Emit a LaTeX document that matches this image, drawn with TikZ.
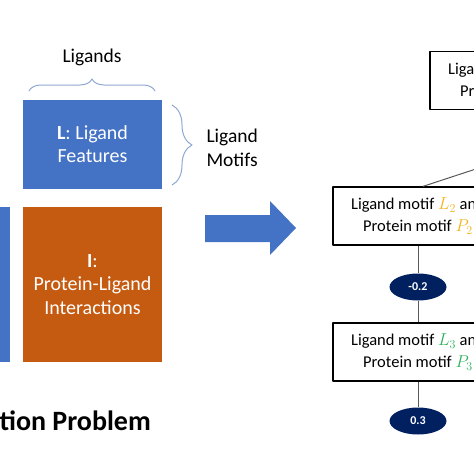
\documentclass[tikz,border=0pt]{standalone}
\usepackage{fontspec}
\setmainfont{Carlito}
\usepackage{tikz}
\usetikzlibrary{positioning,calc,shapes.geometric,decorations.pathreplacing}
\definecolor{featblue}{HTML}{4472C4}
\definecolor{featorange}{HTML}{C55A11}
\definecolor{bracecol}{HTML}{8FA8D4}
\definecolor{navy}{HTML}{002060}
\definecolor{gold}{HTML}{F4B41A}
\definecolor{leaf}{HTML}{2DB35A}
\definecolor{edgegray}{HTML}{595959}
\tikzset{
    every picture/.style={line join=round},
    featbox/.style={fill=#1,draw=none,text=white,align=center,
      minimum width=139pt,inner sep=0pt,
      font=\fontsize{20}{23.5}\selectfont},
    motifbox/.style={draw=black,fill=white,line width=1.3pt,
      minimum width=170pt,minimum height=58pt,inner sep=2pt,align=center,
      font=\fontsize{16.5}{22}\selectfont},
    scorenode/.style={ellipse,fill=navy,text=white,inner sep=0pt,
      minimum width=57pt,minimum height=27pt,
      font=\fontsize{12}{14}\selectfont\bfseries},
    treeline/.style={draw=edgegray,line width=1pt},
    bracemark/.style={draw=bracecol,line width=1pt,
      decorate,decoration={brace,amplitude=#1}},
    sidelabel/.style={font=\fontsize{19.5}{24}\selectfont,align=left}
}

\begin{document}
\begin{tikzpicture}[x=1pt,y=-1pt]
  \useasboundingbox (0,0) rectangle (474,474);
  \clip (0,0) rectangle (474,474);
  % feature matrices
  \node[featbox=featblue,minimum width=30pt,minimum height=155pt] (pmat)
    at (-5,284.5) {};
  \node[featbox=featblue,minimum height=89pt] (lmat) at (92.5,144)
    {\textbf{L}: Ligand\\Features};
  \node[featbox=featorange,minimum height=155pt] (imat) at (92.5,284.5)
    {\textbf{I}:\\Protein-Ligand\\Interactions};
  \node[sidelabel] (lig) at (92,57) {Ligands};
  \node[sidelabel,anchor=west] (motifs) at (203,148) {Ligand\\Motifs};
  \draw[bracemark=12pt] (29,91) -- (155,91);
  \draw[bracemark=20pt] (172,105) -- (172,185);
  \node[font=\fontsize{28}{32}\selectfont\bfseries,anchor=base east,
    inner sep=0pt] (title) at (151,430) {tion Problem};
  % big arrow
  \fill[featblue] (205,215) -- (270,215) -- (270,201) -- (296,228)
    -- (270,255) -- (270,242) -- (205,242) -- cycle;
  % tree of motif pairs
  \node[motifbox] (m1) at (515,80.5)
    {Ligand motif $L_1$ and\\Protein motif $P_1$};
  \node[motifbox] (m2) at (418,216)
    {Ligand motif \textcolor{gold}{$L_2$} and\\Protein motif \textcolor{gold}{$P_2$}};
  \node[scorenode] (s2) at (418,287) {-0.2};
  \node[motifbox] (m3) at (418,352)
    {Ligand motif \textcolor{leaf}{$L_3$} and\\Protein motif \textcolor{leaf}{$P_3$}};
  \node[scorenode] (s3) at (418,421) {0.3};
  \coordinate (split) at (540,148);
  \draw[treeline] (split) -- ([xshift=5pt]m2.north);
  \draw[treeline] (m2) -- (s2);
  \draw[treeline] (s2) -- (m3);
  \draw[treeline] (m3) -- (s3);
\end{tikzpicture}
\end{document}
